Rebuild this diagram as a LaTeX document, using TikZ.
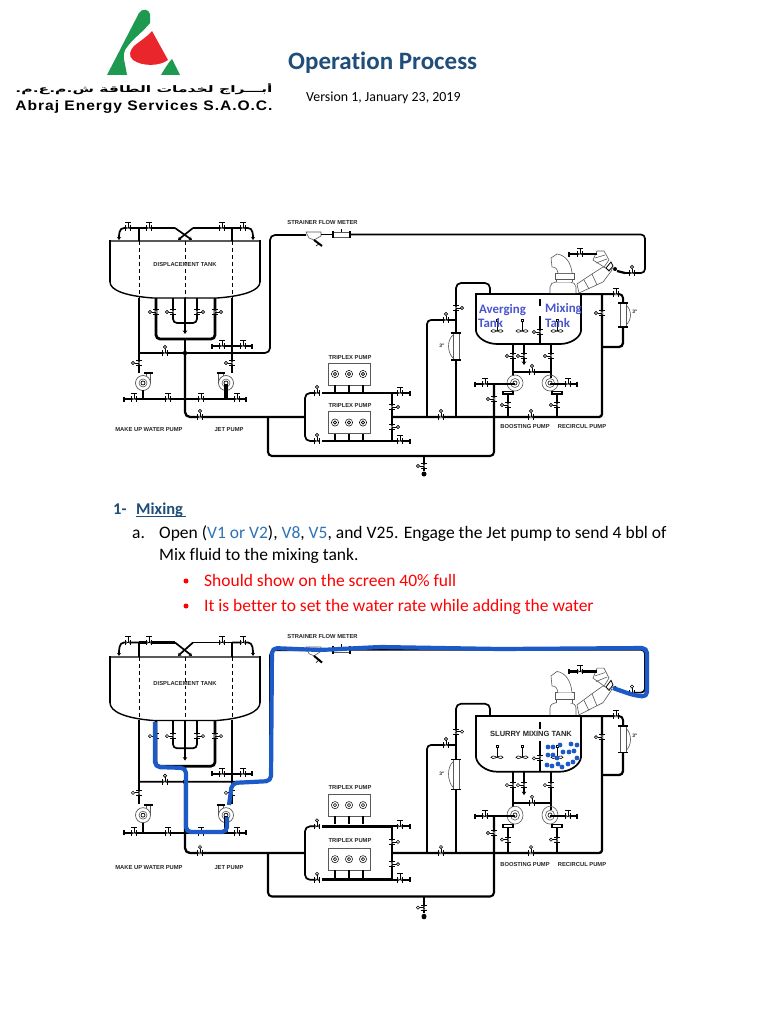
\documentclass[tikz,border=0pt]{standalone}
\usepackage{fontspec}
\usepackage{graphicx}
\usetikzlibrary{arrows.meta}
\setmainfont[Ligatures=CommonOff]{Carlito}
\newfontfamily\lab{Liberation Sans}
\newfontfamily\arabicfont[Script=Arabic]{DejaVu Sans}
\TeXXeTstate=1
\definecolor{titleblue}{HTML}{1F4E79}
\definecolor{vblue}{HTML}{2E74B5}
\definecolor{lblue}{HTML}{4A55CC}
\definecolor{markblue}{HTML}{1C5AC8}
\definecolor{lgreen}{HTML}{1E9A50}
\definecolor{lred}{HTML}{E8262C}
\tikzset{
 pipe/.style={line width=1.7pt,line cap=butt},
 pipeT/.style={line width=2.7pt},
 pipeD/.style={line width=.9pt,dash pattern=on 4pt off 3pt},
 thinp/.style={line width=1.2pt},
 outl/.style={line width=.6pt,draw=black!65},
 capped/.style={-{Bar[width=5pt,length=1.4pt]}},
 lbl/.style={font=\lab\bfseries\fontsize{5.8}{6}\selectfont,text=black!85,inner sep=0pt},
 body/.style={anchor=base west,inner sep=0pt,font=\fontsize{17.5}{19}\selectfont},
 blab/.style={anchor=base west,inner sep=0pt,text=lblue,font=\bfseries\fontsize{12.9}{13}\selectfont},
 vh/.pic={\fill[white] (-2.5,-1.2) rectangle (2.5,1.2);
   \draw[line width=1.1pt] (-2.5,-2.8)--(-2.5,2.8) (2.5,-2.8)--(2.5,2.8);
   \draw[line width=.5pt] (-2.5,-1)--(2.5,1) (-2.5,1)--(2.5,-1);
   \draw[line width=.9pt] (0,0)--(0,-6) (-3,-6)--(3,-6);},
 vhc/.pic={\fill[white] (-2.5,-1.2) rectangle (2.5,1.2);
   \draw[line width=1.1pt] (-2.5,-2.8)--(-2.5,2.8) (2.5,-2.8)--(2.5,2.8);
   \draw[line width=.5pt] (-2.5,-1)--(2.5,1) (-2.5,1)--(2.5,-1);
   \draw[line width=.8pt] (0,0)--(0,-4.5);
   \draw[line width=.6pt,fill=white] (0,-6) circle (1.6);},
 vv/.pic={\fill[white] (-1.2,-2.5) rectangle (1.2,2.5);
   \draw[line width=1.1pt] (-2.8,-2.5)--(2.8,-2.5) (-2.8,2.5)--(2.8,2.5);
   \draw[line width=.5pt] (-1,-2.5)--(1,2.5) (1,-2.5)--(-1,2.5);
   \draw[line width=.8pt] (0,0)--(-4.5,0);
   \draw[line width=.6pt,fill=white] (-6,0) circle (1.6);},
 pump/.pic={\draw[outl,line width=.7pt] (0,0) circle (7.5);
   \draw[outl] (0,0) circle (4);
   \draw[line width=.7pt] (0,0) circle (2);
   \draw[outl,line width=.7pt] (-7.5,0) -- (-7.5,-9) (-3,-7) -- (-3,-9);
   \draw[line width=1.6pt] (-9.5,-10)--(-1,-10);},
 triplex/.pic={\draw[outl,fill=white] (-21,-11) rectangle (21,11);
   \foreach \i in {-14,0,14}{\draw[line width=.5pt] (\i,0) circle (3.6);\draw[line width=.6pt] (\i,0) circle (1.6);};
   \draw[line width=2pt] (-14,11)--(-14,19) (0,11)--(0,19) (14,11)--(14,19);},
 agit/.pic={\draw[line width=.6pt] (0,-10)--(0,0);
   \draw[line width=.5pt,fill=white] (-1.2,-11.5) rectangle (1.2,-9.5);
   \draw[line width=.6pt] (0,0) .. controls (-3,-1.5) and (-6,-2) .. (-6,0) .. controls (-6,2) and (-3,1.5) .. (0,0)
     .. controls (3,-1.5) and (6,-2) .. (6,0) .. controls (6,2) and (3,1.5) .. (0,0);}
}
\newcommand{\Plant}[1]{%
 % displacement tank
 \draw[line width=1.4pt,fill=white] (110,241) -- (260,241) -- (260,282) .. controls (260,290) and (245,296) .. (217,298) -- (153,298) .. controls (125,296) and (110,290) .. (110,282) -- cycle;
 \draw[line width=2.8pt] (110,240) -- (110,282) (260,240) -- (260,282);
 % top lines
 \draw[-{Stealth[length=3pt,width=4pt]},pipe] (139,228) -- (124,228) to[out=180,in=90] (119,240);
 \draw[pipeT] (139,228) -- (175,228);
 \draw[pipe,-{Stealth[length=3pt,width=4pt]}] (175,228) -- (192,240);
 \draw[pipe,-{Stealth[length=3pt,width=4pt]}] (193,228) -- (178,240);
 \draw[pipe] (193,228) -- (232,228);
 \draw[-{Stealth[length=3pt,width=4pt]},pipe] (232,228) -- (248,228) to[out=0,in=90] (253,240);
 \draw[line width=2.2pt] (139,228) -- (139,241) (232,228) -- (232,241);
 \draw[pipeD] (139,241) -- (139,298) (185,241) -- (185,298) (232,241) -- (232,298);
 \node[lbl,fill=white] (#1tank) at (185,265) {DISPLACEMENT TANK};
 \pic at (128,228) {vh}; \pic at (149,228) {vh}; \pic at (222,228) {vh}; \pic at (243,228) {vh};
 % below tank
 \draw[pipe] (139,298) -- (139,353);
 \draw[line width=2.1pt] (232,298) -- (232,353);
 \draw[pipe,-{Stealth[length=3.5pt,width=4.5pt]}] (185,298) -- (185,334);
 \draw[pipeT,rounded corners=4pt] (156,298) -- (156,339) -- (215,339) -- (215,298);
 \draw[pipe,rounded corners=4pt] (173,298) -- (173,323) -- (197,323) -- (197,298);
 \pic at (156,312) {vv}; \pic at (173,312) {vv};
 \pic[xscale=-1] at (197,312) {vv}; \pic[xscale=-1] at (215,312) {vv};
 \draw[line width=2.2pt,capped] (232,346) -- (253,346);
 \draw[line width=2.2pt,capped] (232,346) -- (211,346);
 \pic at (222,346) {vh}; \pic at (243,346) {vh};
 % jet line
 \draw[pipe,rounded corners=5pt] (139,353) -- (270,353) -- (270,235) -- (306,235);
 \draw[line width=2.2pt] (185,339) -- (185,353);
 \pic at (165,353) {vhc};
 \fill (185,353) circle (2.2);
 \draw[line width=2.1pt] (139,353) -- (139,373) (232,353) -- (232,373);
 \pic at (139,363) {vv}; \pic at (232,363) {vv};
 \pic[xscale=-1] at (143,383) {pump}; \pic at (226,383) {pump};
 % strainer
 \draw[outl,fill=white] (306,232) -- (321,232) -- (321,236) -- (314,240) -- (309,238) -- cycle;
 \draw[line width=2pt] (314,240) -- (322,246);
 \draw[line width=.6pt] (316,246) -- (320,243);
 \draw[pipe] (321,234.5) -- (333,234.5);
 \draw[outl,fill=white] (333,232) rectangle (350,237);
 \draw[line width=1.1pt] (333,231)--(333,238) (350,231)--(350,238);
 \draw[line width=.5pt] (341,232)--(341,229.5);
 \node[lbl] (#1strain) at (322.5,222.5) {STRAINER FLOW METER};
 \draw[pipe,rounded corners=4pt] (350,234.5) -- (645,234.5) -- (645,273) -- (625,273);
 \draw[line width=2.2pt] (625,273) -- (617,271);
 \pic at (632,273) {vhc};
 % lower water line
 \draw[pipe,{Bar[width=5pt,length=1.4pt]}-{Bar[width=5pt,length=1.4pt]}] (123,399) -- (247,399);
 \draw[thinp] (143,390) -- (143,399);
 \draw[line width=3.2pt] (226,384) -- (226,399);
 \pic at (134,399) {vh}; \pic at (168,399) {vh}; \pic at (201,399) {vh}; \pic at (237,399) {vh};
 \node[lbl] (#1mup) at (149,430) {MAKE UP WATER PUMP};
 \node[lbl] (#1jet) at (229,430) {JET PUMP};
 % main
 \draw[line width=2.3pt,rounded corners=5pt] (185,353) -- (185,417) -- (305,417);
 \pic at (200,417) {vhc};
 \draw[line width=2.1pt,rounded corners=4pt] (268,417) -- (268,456) -- (494,456) -- (494,384);
 % triplex
 \pic at (349,374) {triplex}; \pic at (349,422.5) {triplex};
 \node[lbl] (#1tp) at (350,358) {TRIPLEX PUMP};
 \node[lbl] (#1tq) at (350,406) {TRIPLEX PUMP};
 \draw[pipe,rounded corners=5pt] (317,393) -- (305,393) -- (305,441) -- (317,441);
 \draw[pipeT] (322,393) -- (392,393);
 \draw[pipeT] (322,441) -- (392,441);
 \draw[pipe,capped] (392,393) -- (411,393); \draw[pipe,capped] (392,441) -- (411,441);
 \draw[line width=2.1pt] (392,393) -- (392,441);
 \pic at (317,393) {vhc}; \pic at (317,441) {vhc}; \pic at (400,393) {vh}; \pic at (400,441) {vh};
 \pic[xscale=-1] at (392,407) {vv}; \pic[xscale=-1] at (392,427) {vv};
 % right main
 \draw[line width=2.3pt,rounded corners=3pt] (392,417) -- (602,417) -- (602,294);
 \pic at (441,417) {vhc}; \pic at (531,417) {vhc};
 \draw[pipe,rounded corners=4pt] (427,417) -- (427,320) -- (456,320);
 \pic at (446,320) {vhc};
 \draw[line width=2.3pt] (456,417) -- (456,360);
 \draw[line width=2.3pt] (456,333) -- (456,292);
 \draw[pipe,rounded corners=5pt,-{Stealth[length=3.5pt,width=4.5pt]}] (456,292) -- (456,283) -- (490,283) -- (490,306);
 \pic[xscale=-1] at (456,308) {vv};
 \draw[outl,fill=white] (453,333) rectangle (459,360);
 \draw[line width=1.2pt] (451,333)--(461,333) (451,360)--(461,360);
 \draw[outl] (453,335) .. controls (447,340) and (447,352) .. (453,358);
 \node[lbl,font=\lab\bfseries\fontsize{5}{5}\selectfont] (#1ms) at (442,346) {3"};
 % mixing tank
 \draw[line width=1.7pt,fill=white] (476,294) -- (581,294) -- (581,331) .. controls (580,338) and (570,344) .. (560,344) -- (497,344) .. controls (487,344) and (477,338) .. (476,331) -- cycle;
 \draw[pipeT] (476,294) -- (581,294) (476,294) -- (476,330);
 \draw[line width=2.2pt] (540,316) -- (540,344) (540,299) -- (540,306);
 \pic at (540,332) {vv};
 \pic at (497,331) {agit}; \pic at (522,331) {agit}; \pic at (557,331) {agit};
 % below mix tank
 \draw[line width=2pt] (513,344) -- (513,376);
 \draw[pipeT] (551,344) -- (551,378);
 \draw[pipeT,-{Stealth[length=3.5pt,width=4.5pt]}] (524,344) -- (524,365);
 \pic at (513,356) {vv}; \pic at (524,356) {vv}; \pic at (551,356) {vv};
 \draw[pipe] (513,372) -- (551,372);
 \pic at (532,372) {vhc};
 \draw[outl] (515,383) circle (8); \draw[outl] (515,383) circle (4.5); \draw[line width=.6pt] (515,383) circle (2);
 \draw[outl] (550,383) circle (8); \draw[outl] (550,383) circle (4.5); \draw[line width=.6pt] (550,383) circle (2);
 \draw[line width=2.2pt,capped] (515,384) -- (474,384);
 \draw[line width=2pt,capped] (550,384) -- (578,384);
 \pic at (485,384) {vh}; \pic at (568,384) {vh};
 \draw[line width=2.1pt] (508,417) -- (508,393) (557,417) -- (557,393);
 \draw[line width=1.2pt,fill=white] (503,391.5) -- (513,391.5) -- (513,394) -- (503,394) -- cycle;
 \draw[line width=1.2pt,fill=white] (552,391.5) -- (562,391.5) -- (562,394) -- (552,394) -- cycle;
 \pic at (508,405) {vv}; \pic at (557,405) {vv}; \pic at (494,399) {vv};
 \node[lbl] (#1bp) at (525,427) {BOOSTING PUMP};
 \node[lbl] (#1rp) at (582,427) {RECIRCUL PUMP};
 % drain
 \draw[line width=2.2pt] (424,456) -- (424,471);
 \fill (424,474) circle (2.5);
 \pic at (424,466) {vv};
 % right loop
 \draw[line width=2pt,rounded corners=4pt] (581,294) -- (623,294) -- (623,303);
 \pic at (616,294) {vh};
 \draw[outl,fill=white] (620,303) rectangle (626,327);
 \draw[line width=1.2pt] (618,303)--(628,303) (618,327)--(628,327);
 \draw[outl] (626,305) .. controls (632,310) and (632,320) .. (626,325);
 \node[lbl,font=\lab\bfseries\fontsize{5}{5}\selectfont] (#1mr) at (635,312) {3"};
 \draw[line width=2.3pt,rounded corners=4pt] (623,327) -- (623,347) -- (602,347);
 \pic at (602,313) {vv};
 % hopper
 \draw[outl,fill=white] (550,293) -- (550,287) .. controls (550,284) and (553,282) .. (556,282) -- (570,282) .. controls (573,282) and (576,284) .. (576,287) -- (576,293);
 \draw[outl,fill=white] (556,282) -- (556,279) -- (572,279) -- (572,282);
 \draw[outl,fill=white] (555,279) -- (555,273) -- (574,273) -- (574,279) -- cycle;
 \draw[outl,fill=white] (558,273) .. controls (557,269) and (556,267) .. (552,267) -- (551,258) -- (557,254) .. controls (565,255) and (571,262) .. (572,273);
 \draw[outl,fill=white] (579,293) -- (577,284) -- (592,274) -- (603,267) -- (612,270) -- (603,282) -- cycle;
 \draw[outl] (584,280) -- (589,289) (592,274) -- (597,285);
 \draw[outl,fill=white] (593,260) -- (597,251) -- (604,251) -- (609,260) -- (604,267) -- cycle;
 \draw[outl] (595,258) -- (605,255) (596,263) -- (607,259);
 \draw[line width=.8pt,fill=white] (606,268) -- (611,262) -- (613,266) -- (609,271) -- cycle;
 \draw[line width=2.2pt,{Bar[width=5pt,length=1.4pt]}-] (568,254) -- (597,254);
 \pic at (580,254) {vh};
 \fill (615,269) circle (2);
 \draw[outl] (608,270) -- (614,268);
}
\begin{document}
\begin{tikzpicture}[x=1pt,y=-1pt]
 \useasboundingbox[fill=white] (0,0) rectangle (768,1024);
 % logo
 \fill[lgreen] (107,75) -- (139,13) .. controls (142,8) and (149,9) .. (150,14) -- (150,23) .. controls (140,35) and (133,38) .. (125,50) .. controls (122,56) and (125,62) .. (127,75) -- cycle;
 \fill[lred] (152,31) -- (168,60) .. controls (160,66) and (143,67) .. (133,60) .. controls (128,56) and (130,50) .. (134,46) .. controls (140,41) and (147,37) .. (152,31) -- cycle;
 \fill[lgreen] (172,59) -- (180,75) -- (161,75) .. controls (164,70) and (168,63) .. (172,59) -- cycle;
 \node[inner sep=0pt,anchor=center] (logoar) at (144,89) {\resizebox{257pt}{9pt}{\arabicfont\bfseries\beginR أبـــراج لخدمات الطاقة ش.م.ع.م.\endR}};
 \node[inner sep=0pt,anchor=center] (logoen) at (144,107) {\resizebox{257pt}{10pt}{\lab\bfseries\addfontfeatures{LetterSpace=6}Abraj Energy Services S.A.O.C.}};
 \node[anchor=base west,inner sep=0pt,text=titleblue,font=\bfseries\fontsize{25}{27}\selectfont] (title) at (288,70) {Operation Process};
 \node[anchor=base west,inner sep=0pt,font=\fontsize{13.9}{15}\selectfont] (ver) at (306,102) {Version 1, January 23, 2019};
 % diagram 1
 \Plant{a}
 \node[blab] (avg) at (479,313) {Averging};
 \node[blab] (avt) at (478,327) {Tank};
 \node[blab] (mxg) at (545,312) {Mixing};
 \node[blab] (mxt) at (545,327) {Tank};
 % text
 \node[body,text=titleblue,font=\bfseries\fontsize{16.5}{18}\selectfont] (h1) at (113,514) {1-};
 \node[body,text=titleblue,font=\bfseries\fontsize{16.5}{18}\selectfont] (h2) at (136,514) {Mixing};
 \draw[titleblue,line width=.9pt] (136,516.5) -- (186,516.5);
 \node[body] (la) at (132,538) {a.};
 \node[body] (l1) at (159,538) {Open (\textcolor{vblue}{V1 or V2}), \textcolor{vblue}{V8}, \textcolor{vblue}{V5}, and V25. Engage the Jet pump to send 4 bbl of};
 \node[body] (l2) at (159,560) {Mix fluid to the mixing tank.};
 \fill[red] (186,581) circle (2.5);
 \fill[red] (186,606) circle (2.5);
 \node[body,text=red] (l3) at (204,586) {Should show on the screen 40\% full};
 \node[body,text=red] (l4) at (204,611) {It is better to set the water rate while adding the water};
 % diagram 2
 \begin{scope}[shift={(0,388.5)},yscale=1.114]
  \Plant{b}
  \node[lbl,font=\lab\bfseries\fontsize{7.5}{8}\selectfont] (slurry) at (531,310) {SLURRY MIXING TANK};
 \end{scope}
 % blue overlay
 \draw[markblue,line width=4.2pt,line join=round,rounded corners=5pt] (155,722) -- (155,767) -- (186,768) -- (186,832) -- (227,832) -- (227,817);
 \draw[markblue,line width=4.2pt,line join=round,rounded corners=5pt] (229,805) -- (232,783) -- (271,781) -- (272,648) -- (320,650) -- (380,647) -- (500,649) -- (647,648) -- (647,697) -- (633,695) -- (613,688);
 \foreach \p in {(548,747),(553,747),(560,745),(571,744),(577,745),(548,755),(553,755),(563,752),(574,751),(569,752),(547,765),(552,766),(558,764),(562,767),(568,764),(573,762),(577,758),(557,758)}{\fill[markblue] \p circle (2.4);}
\end{tikzpicture}
\end{document}
